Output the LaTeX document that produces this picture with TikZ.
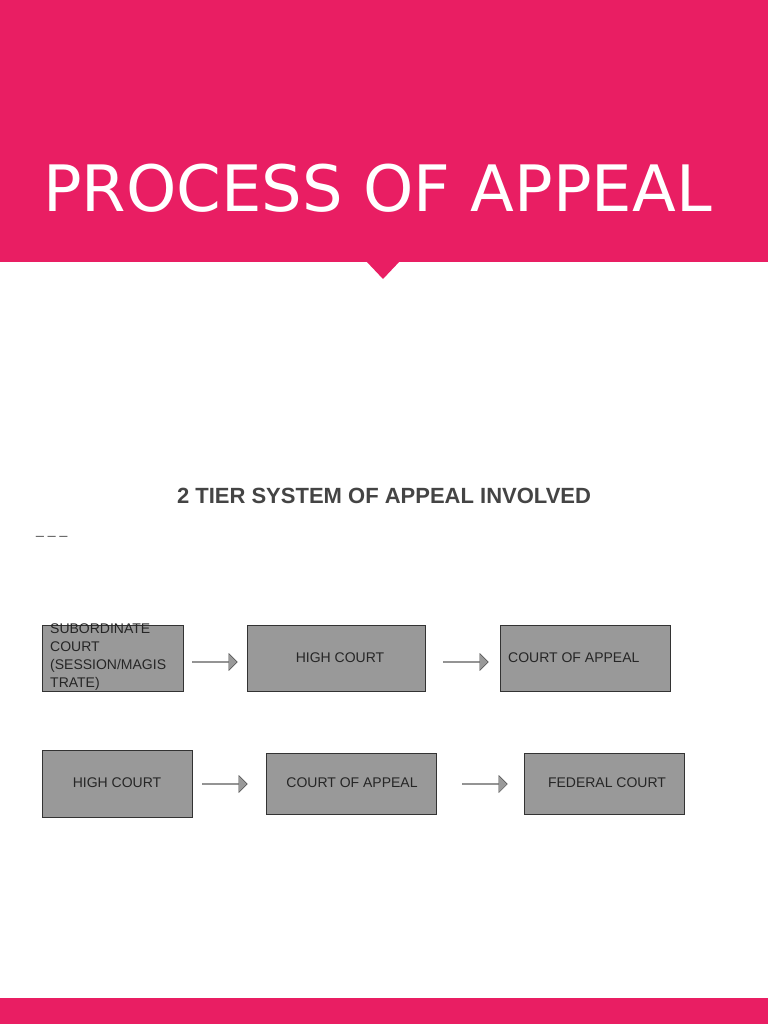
\documentclass[tikz,border=0pt]{standalone}
\usepackage{fontspec}
\setmainfont{Liberation Sans}
\newfontfamily\titlefont{DejaVu Sans}
\usetikzlibrary{shapes.arrows}
\definecolor{pinkbar}{RGB}{233,30,99}
\definecolor{boxgray}{RGB}{153,153,153}
\definecolor{textgray}{RGB}{68,68,68}
\tikzset{
  court/.style={draw=black!80,fill=boxgray,inner sep=0pt,font=\fontsize{14}{17}\selectfont,text=black!85},
  step arrow/.style={single arrow,draw=black!70,fill=boxgray,minimum height=45pt,minimum width=17pt,single arrow head extend=3pt,inner sep=0pt}
}
\begin{document}
\begin{tikzpicture}[x=1pt,y=-1pt]
\useasboundingbox (0,0) rectangle (768,1024);
\fill[white] (0,0) rectangle (768,1024);
% header
\fill[pinkbar] (0,0) rectangle (768,262);
\fill[pinkbar] (366,261) -- (400,261) -- (383,279) -- cycle;
\node[anchor=base west,text=white,inner sep=0pt,font=\titlefont\fontsize{64}{70}\selectfont] (title) at (43,212) {PROCESS OF APPEAL};
\fill[pinkbar] (0,998) rectangle (768,1024);
% subtitle
\node[text=textgray,font=\bfseries\fontsize{22}{26}\selectfont] (sub) at (384,496) {2 TIER SYSTEM OF APPEAL INVOLVED};
\node[text=textgray,font=\fontsize{14}{16}\selectfont,anchor=west,inner sep=0pt] (dash) at (36,536) {\_ \_ \_};
% row 1
\draw[court] (42,625) rectangle (183,691);
\node[anchor=north west,align=left,inner sep=0pt,font=\fontsize{14}{18}\selectfont,text=black!85] (sub1) at (50,624) {SUBORDINATE\\COURT\\(SESSION/MAGIS\\TRATE)};
\draw[court] (247,625) rectangle (425,691);
\node[font=\fontsize{14}{17}\selectfont,text=black!85] (high1) at (340,658) {HIGH COURT};
\draw[court] (500,625) rectangle (670,691);
\node[anchor=west,inner sep=0pt,font=\fontsize{14}{17}\selectfont,text=black!85] (coa1) at (508,658) {COURT OF APPEAL};
\node[step arrow] (a1) at (214.5,662) {};
\node[step arrow] (a2) at (465.5,662) {};
% row 2
\draw[court] (42,750) rectangle (192,817);
\node[font=\fontsize{14}{17}\selectfont,text=black!85] (high2) at (117,783) {HIGH COURT};
\draw[court] (266,753) rectangle (436,814);
\node[font=\fontsize{14}{17}\selectfont,text=black!85] (coa2) at (352,783) {COURT OF APPEAL};
\draw[court] (524,753) rectangle (684,814);
\node[font=\fontsize{14}{17}\selectfont,text=black!85] (fed) at (607,783) {FEDERAL COURT};
\node[step arrow] (a3) at (224.5,784) {};
\node[step arrow] (a4) at (484.5,784) {};
\end{tikzpicture}
\end{document}
